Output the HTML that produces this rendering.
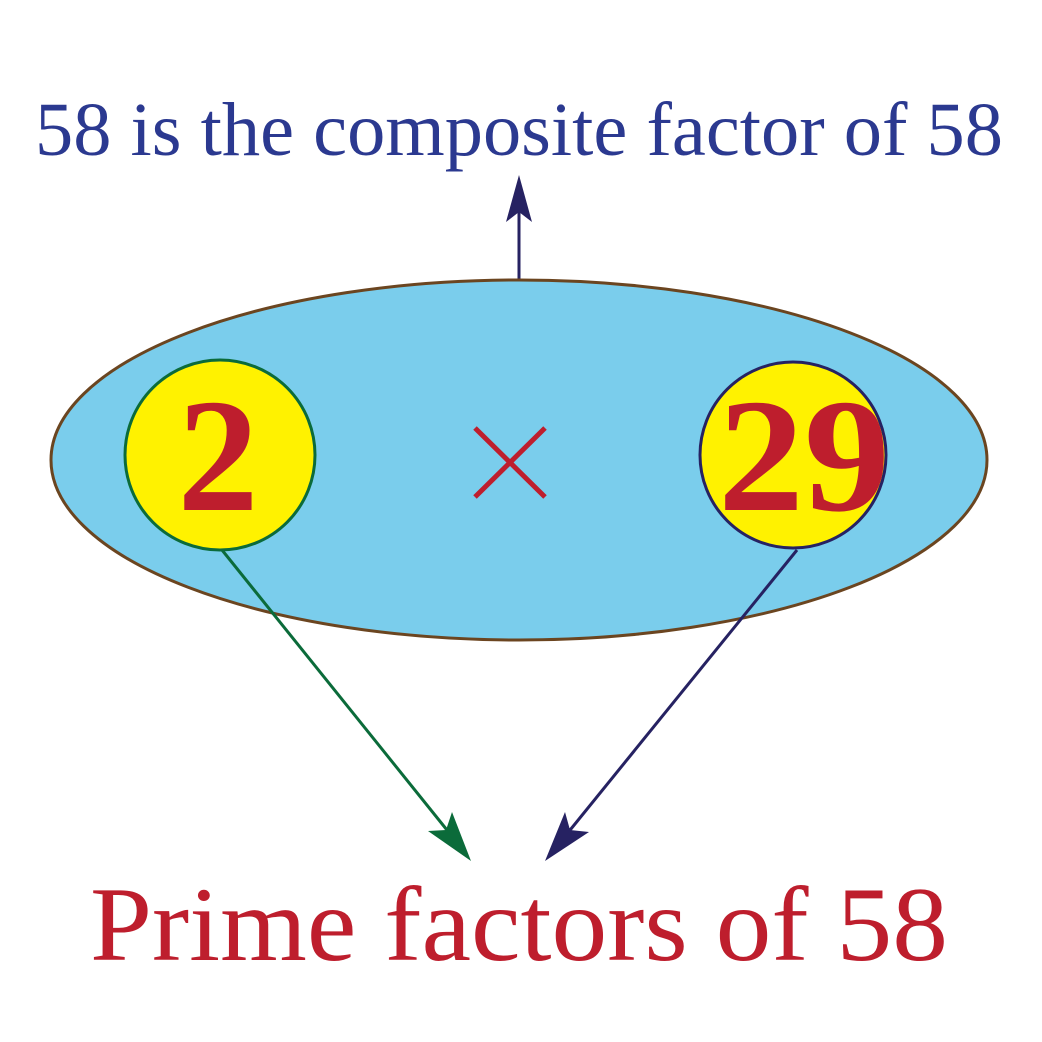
<!DOCTYPE html>
<html><head><meta charset="utf-8"><style>
html,body{margin:0;padding:0;background:#fff}
svg{display:block}
</style></head><body>
<svg width="1042" height="1042" viewBox="0 0 1042 1042" xmlns="http://www.w3.org/2000/svg">
<rect width="1042" height="1042" fill="#fff"/>
<text x="519" y="155" text-anchor="middle" font-family="Liberation Serif, serif" font-size="76" fill="#2b3990" textLength="968" lengthAdjust="spacingAndGlyphs">58 is the composite factor of 58</text>
<line x1="519" y1="280" x2="519" y2="200" stroke="#262262" stroke-width="3"/>
<path d="M519 175 L532 222 L519 212 L506 222 Z" fill="#262262"/>
<ellipse cx="519" cy="460" rx="468" ry="180" fill="#7acdec" stroke="#6b4520" stroke-width="3"/>
<circle cx="220" cy="455" r="95" fill="#fff200" stroke="#0b6b3a" stroke-width="3"/>
<circle cx="793" cy="455" r="93" fill="#fff200" stroke="#262262" stroke-width="3"/>
<text x="218" y="510" text-anchor="middle" font-family="Liberation Serif, serif" font-weight="bold" font-size="162" fill="#be1e2d">2</text>
<text x="804" y="510" text-anchor="middle" font-family="Liberation Serif, serif" font-weight="bold" font-size="162" fill="#be1e2d" textLength="172" lengthAdjust="spacingAndGlyphs">29</text>
<line x1="475" y1="428" x2="545" y2="497" stroke="#be1e2d" stroke-width="5"/>
<line x1="545" y1="428" x2="475" y2="497" stroke="#be1e2d" stroke-width="5"/>
<line x1="222" y1="550" x2="455" y2="840" stroke="#0b6b3a" stroke-width="3"/>
<path d="M471 861 L428 831 L446 830 L452 812 Z" fill="#0b6b3a"/>
<line x1="797" y1="550" x2="562" y2="840" stroke="#262262" stroke-width="3"/>
<path d="M545 861 L565 812 L570 830 L589 832 Z" fill="#262262"/>
<text x="519" y="960" text-anchor="middle" font-family="Liberation Serif, serif" font-size="106" fill="#be1e2d" textLength="858" lengthAdjust="spacingAndGlyphs">Prime factors of 58</text>
</svg>
</body></html>
